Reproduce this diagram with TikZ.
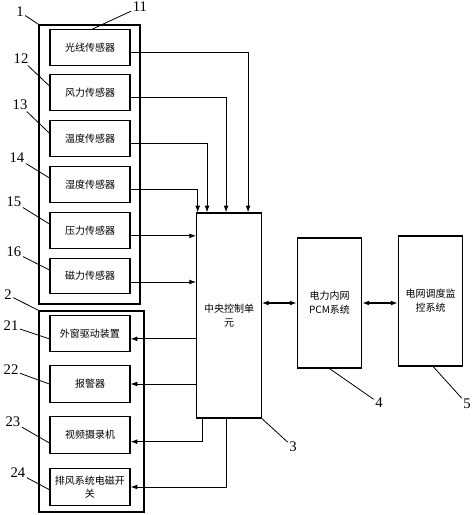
\documentclass[tikz,border=0pt]{standalone}
\usepackage{fontspec}
\setmainfont{Liberation Serif}
\newfontfamily\cjkfont{Noto Sans CJK SC}
\usepackage{tikz}
\usetikzlibrary{arrows.meta, calc}
\tikzset{
    box_group/.style={
        rectangle, draw=black, line width=1.2pt, inner sep=0pt
    },
    box_item/.style={
        rectangle, draw=black, line width=0.9pt,
        minimum width=60pt, minimum height=26.5pt, inner sep=1pt,
        align=center, font=\cjkfont\fontsize{7.5}{10}\selectfont
    },
    box_tall/.style={
        rectangle, draw=black, line width=0.9pt,
        minimum width=48.5pt, inner sep=1pt,
        align=center, font=\cjkfont\fontsize{7.5}{10.5}\selectfont
    },
    sig_arrow/.style={
        ->, >={Latex[length=5pt, width=3.6pt]}, line width=0.7pt, draw=black
    },
    dbl_arrow/.style={
        <->, >={Latex[length=5pt, width=3.6pt]}, line width=0.8pt, draw=black
    },
    lead_line/.style={line width=0.6pt},
    num_lbl/.style={font=\fontsize{11}{12}\selectfont, inner sep=1pt}
}

\begin{document}
\begin{tikzpicture}[x=0.75pt, y=-0.75pt]
    \useasboundingbox (0, 0) rectangle (474, 515);

    % groups
    \node[box_group, minimum width=75.75pt, minimum height=209.25pt] (g1) at (89.5, 164.5) {};
    \node[box_group, minimum width=78.75pt, minimum height=150.75pt] (g2) at (91.5, 411.5) {};

    % sensors
    \node[box_item] (s11) at (90, 47.5) {光线传感器};
    \node[box_item] (s12) at (90, 92.5) {风力传感器};
    \node[box_item] (s13) at (90, 138.5) {温度传感器};
    \node[box_item] (s14) at (90, 184.5) {湿度传感器};
    \node[box_item] (s15) at (90, 230.5) {压力传感器};
    \node[box_item] (s16) at (90, 276) {磁力传感器};

    % actuators
    \node[box_item, minimum height=27.5pt] (d21) at (90, 333.5) {外窗驱动装置};
    \node[box_item, minimum height=27.5pt] (d22) at (90, 384) {报警器};
    \node[box_item, minimum height=27.5pt] (d23) at (90, 435) {视频摄录机};
    \node[box_item, minimum height=27.5pt] (d24) at (90, 487) {排风系统电磁开\\关};

    % control and networks
    \node[box_tall, minimum height=153.75pt] (ctrl) at (229, 315.5) {中央控制单\\元};
    \node[box_tall, minimum height=97.5pt] (pcm) at (329.5, 303) {电力内网\\PCM系统};
    \node[box_tall, minimum height=97.5pt] (grid) at (430.5, 301) {电网调度监\\控系统};

    % sensor inputs
    \draw[sig_arrow] ([yshift=-3.4pt]s11.east) -| ([xshift=39pt]ctrl.north west);
    \draw[sig_arrow] ([yshift=-4pt]s12.east) -| ([xshift=22.5pt]ctrl.north west);
    \draw[sig_arrow] ([yshift=-4pt]s13.east) -| ([xshift=8.25pt]ctrl.north west);
    \draw[sig_arrow] ([yshift=-4pt]s14.east) -| ([xshift=1.2pt]ctrl.north west);
    \draw[sig_arrow] ([yshift=-4pt]s15.east) -- ([yshift=-4pt]s15.east -| ctrl.west);
    \draw[sig_arrow] ([yshift=-4.5pt]s16.east) -- ([yshift=-4.5pt]s16.east -| ctrl.west);

    % control outputs
    \draw[sig_arrow] ([yshift=-4pt]d21.east -| ctrl.west) -- ([yshift=-4pt]d21.east);
    \draw[sig_arrow] (d22.east -| ctrl.west) -- (d22.east);
    \draw[sig_arrow] ([xshift=4.5pt]ctrl.south west) |- ([yshift=-5pt]d23.east);
    \draw[sig_arrow] ([xshift=22.5pt]ctrl.south west) |- (d24.east);

    % network links
    \draw[dbl_arrow] (pcm.west -| ctrl.east) -- (pcm.west);
    \draw[dbl_arrow] (pcm.east) -- (pcm.east -| grid.west);

    % reference numbers
    \node[num_lbl] (n1) at (20, 12) {1};
    \node[num_lbl] (n11) at (140, 7) {11};
    \node[num_lbl] (n12) at (21, 59) {12};
    \node[num_lbl] (n13) at (20, 105) {13};
    \node[num_lbl] (n14) at (17, 158) {14};
    \node[num_lbl] (n15) at (14, 202) {15};
    \node[num_lbl] (n16) at (14, 252) {16};
    \node[num_lbl] (n2) at (8, 295) {2};
    \node[num_lbl] (n21) at (11, 326) {21};
    \node[num_lbl] (n22) at (11, 370) {22};
    \node[num_lbl] (n23) at (13, 422) {23};
    \node[num_lbl] (n24) at (18, 473) {24};
    \node[num_lbl] (n3) at (293, 447) {3};
    \node[num_lbl] (n4) at (379, 403) {4};
    \node[num_lbl] (n5) at (467, 404) {5};

    \draw[lead_line] (n1) -- (g1.north west);
    \draw[lead_line] (n11) -- ([xshift=1.5pt]s11.north);
    \draw[lead_line] (n12) -- ([yshift=4.9pt]s12.west);
    \draw[lead_line] (n13) -- ([yshift=4pt]s13.west);
    \draw[lead_line] (n14) -- ([yshift=4.9pt]s14.west);
    \draw[lead_line] (n15) -- ([yshift=4.9pt]s15.west);
    \draw[lead_line] (n16) -- ([yshift=4.5pt]s16.west);
    \draw[lead_line] (n2) -- (g2.north west);
    \draw[lead_line] (n21) -- ([yshift=-4pt]d21.west);
    \draw[lead_line] (n22) -- (d22.west);
    \draw[lead_line] (n23) -- ([yshift=-6pt]d23.west);
    \draw[lead_line] (n24) -- ([yshift=-2pt]d24.west);
    \draw[lead_line] (n3) -- (ctrl.south east);
    \draw[lead_line] (n4) -- (pcm.south);
    \draw[lead_line] (n5) -- ([xshift=2pt]grid.south);
\end{tikzpicture}
\end{document}
